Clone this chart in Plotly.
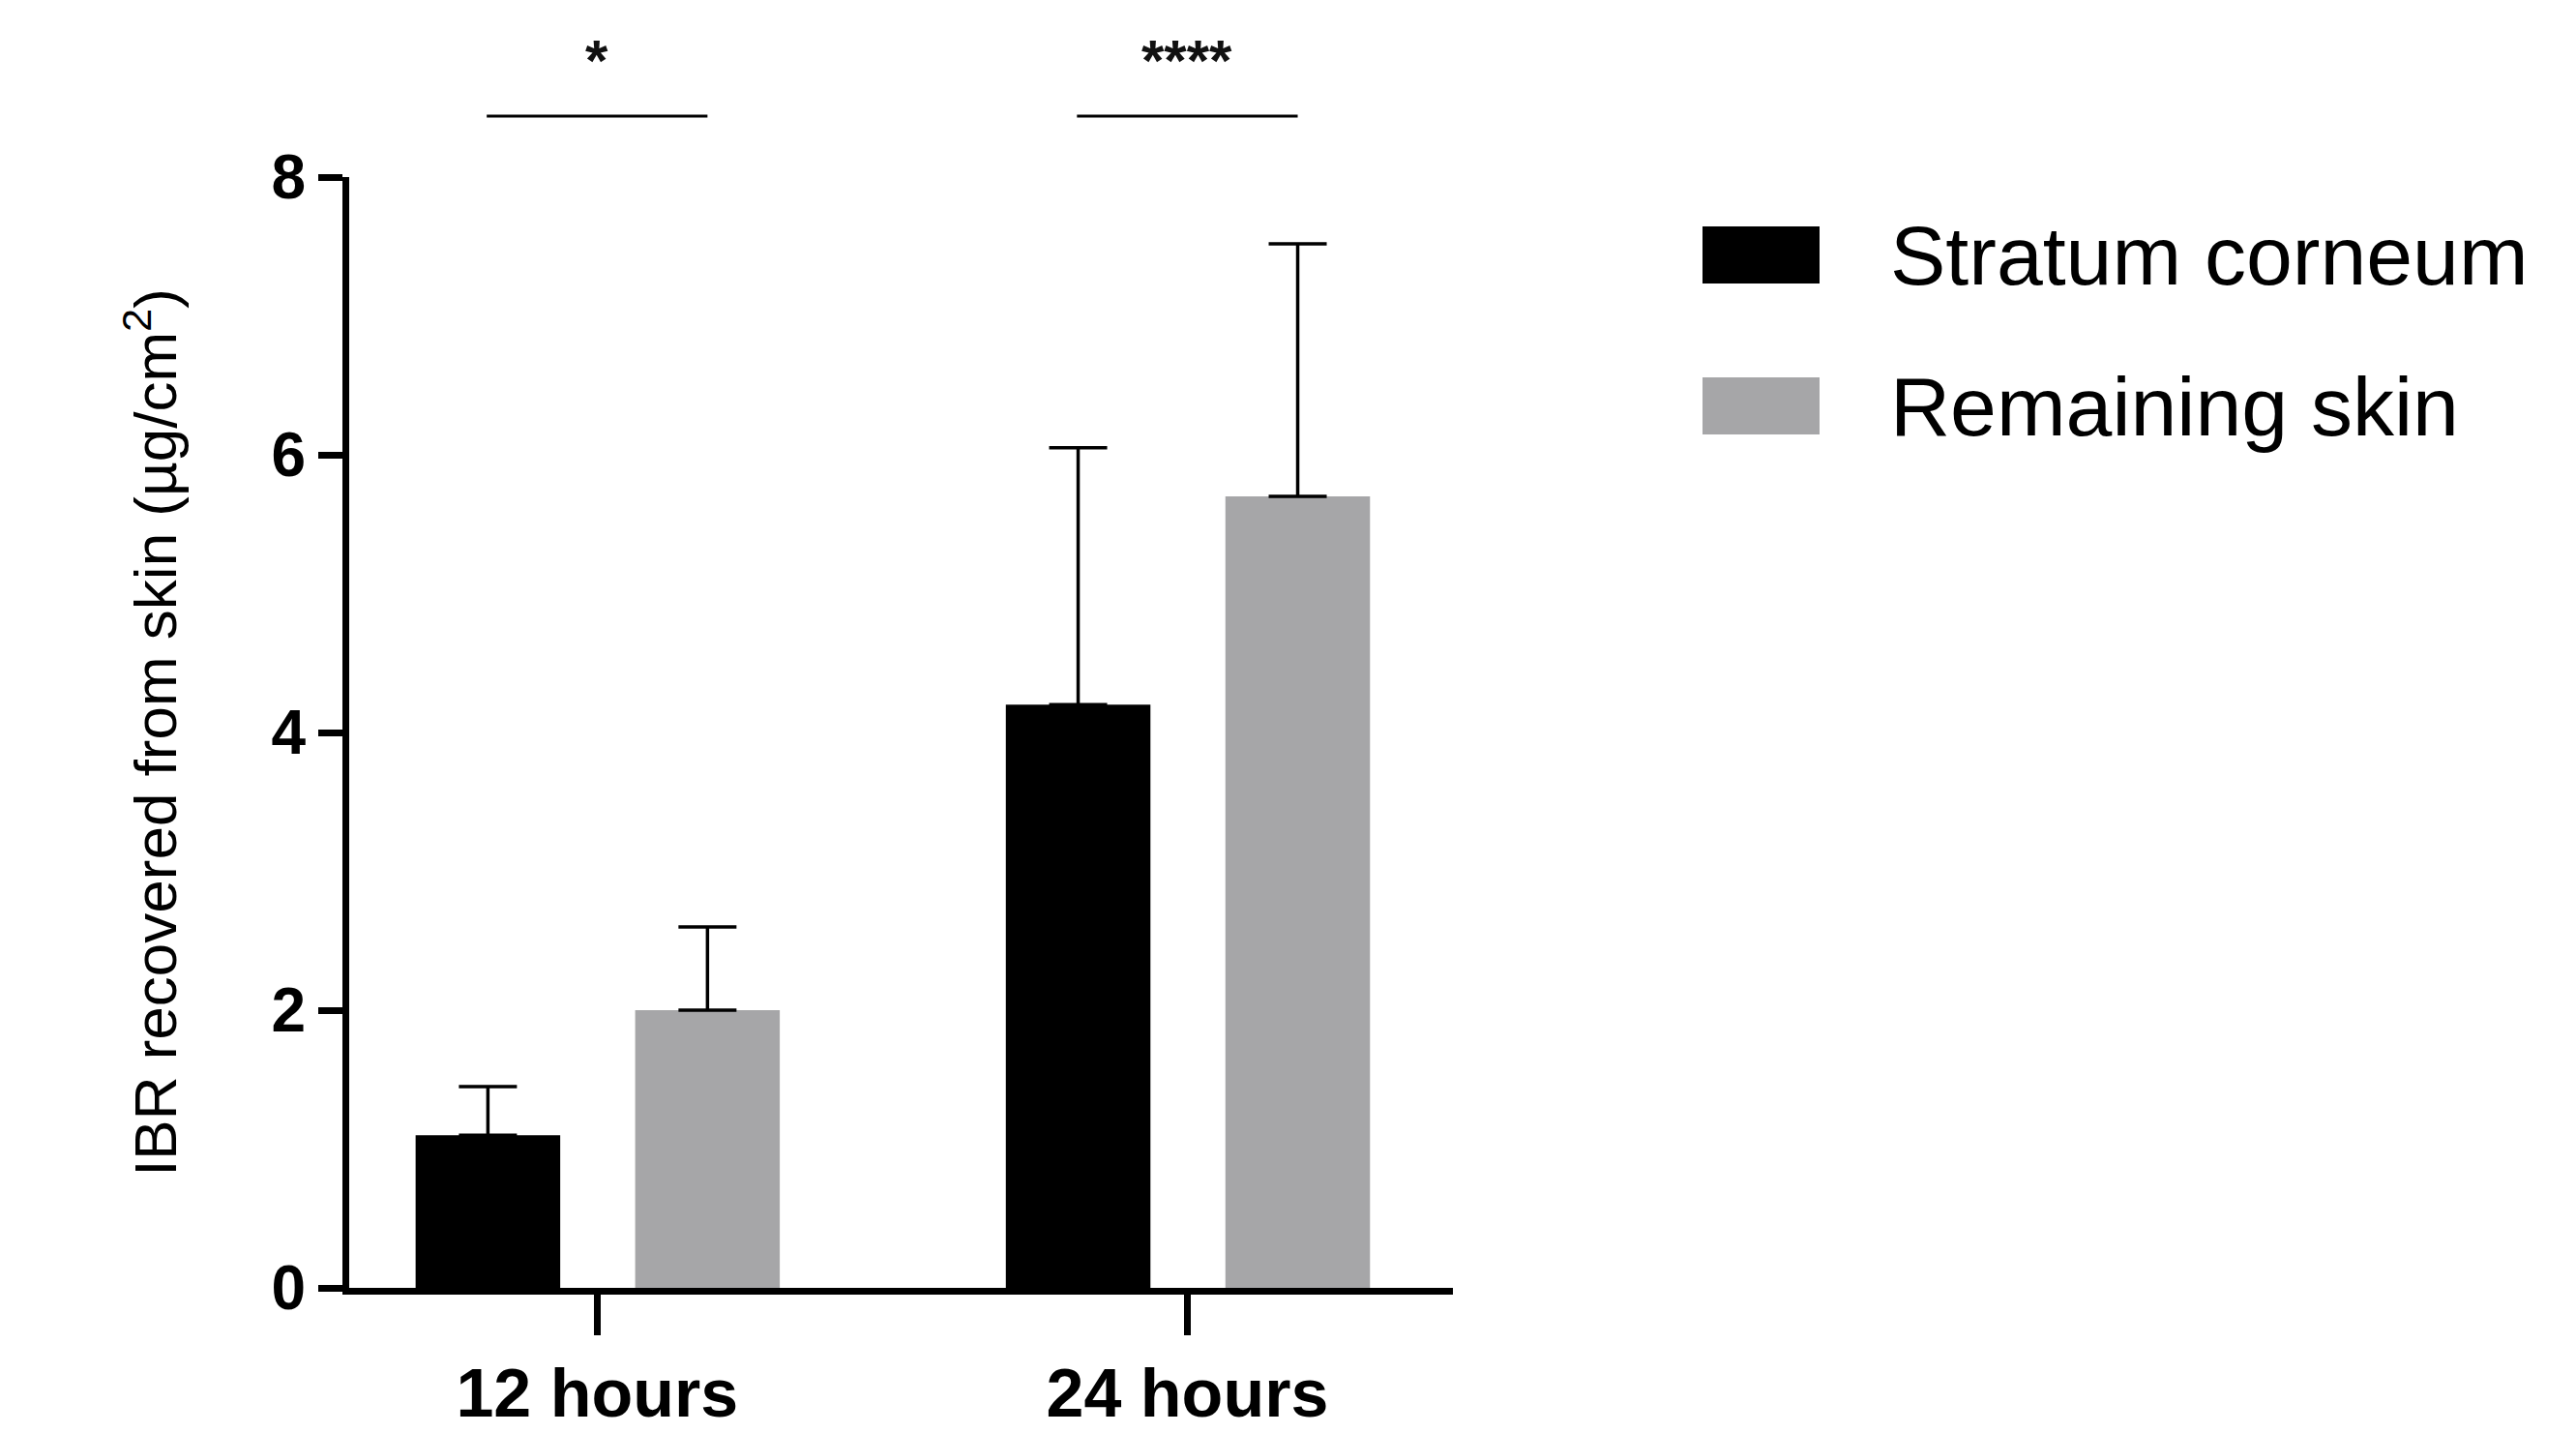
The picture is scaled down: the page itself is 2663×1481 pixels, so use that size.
import plotly.graph_objects as go

categories = ["12 hours", "24 hours"]
series = ["Stratum corneum", "Remaining skin"]
colors = ["#000000", "#a6a6a8"]
means = [[1.1, 4.2], [2.0, 5.7]]
sds = [[0.35, 1.85], [0.6, 1.82]]
stars = ["*", "****"]
yticks = [0, 2, 4, 6, 8]

W, H = 2663, 1481
L, R, T, B = 353, 1494, 175, 1323
def px(x): return (x - L) / (R - L)
def py(y): return (B - y) / (B - T)

xpos = list(range(len(categories)))
bar_w = 0.245
offsets = [-0.185 - bar_w / 2, 0.187 - bar_w / 2]
fig = go.Figure()
for i, name in enumerate(series):
    fig.add_trace(go.Bar(
        x=xpos, y=means[i], name=name, width=bar_w, offset=offsets[i],
        marker=dict(color=colors[i], line=dict(width=0)),
        error_y=dict(type="data", array=sds[i], arrayminus=[0] * len(xpos), symmetric=False,
                     color="black", thickness=3.5, width=30),
        showlegend=False,
    ))

font = "Liberation Sans, Arial, sans-serif"
shapes, annotations = [], []
for j, s in enumerate(stars):
    shapes.append(dict(type="line", xref="x", yref="paper", x0=j - 0.187, x1=j + 0.187,
                       y0=py(112), y1=py(112), line=dict(color="black", width=3)))
    annotations.append(dict(xref="x", yref="paper", x=j, y=py(55), text="<b>%s</b>" % s,
                            yanchor="middle", showarrow=False,
                            font=dict(family=font, size=60, color="#111")))

for k, name in enumerate(series):
    top = [226, 382][k]
    shapes.append(dict(type="rect", xref="paper", yref="paper", x0=px(1752), x1=px(1873),
                       y0=py(top + 59), y1=py(top), fillcolor=colors[k], line=dict(width=0)))
    annotations.append(dict(xref="paper", yref="paper", x=px(1944), y=py(top + 30), text=name,
                            xanchor="left", yanchor="middle", showarrow=False,
                            font=dict(family=font, size=86, color="black")))

fig.update_layout(
    width=W, height=H, template=None, plot_bgcolor="white", paper_bgcolor="white",
    margin=dict(l=L, r=W - R, t=T, b=H - B),
    barmode="overlay",
    shapes=shapes, annotations=annotations,
    xaxis=dict(range=[-0.42, 1.45], tickvals=xpos, ticktext=["<b>%s</b>" % c for c in categories],
               showline=True, linecolor="black", linewidth=7, ticks="outside", ticklen=42, tickwidth=7,
               tickcolor="black", showgrid=False, zeroline=False,
               tickfont=dict(family=font, size=70, color="black")),
    yaxis=dict(range=[0, 8], tickvals=yticks, ticktext=["<b>%d</b>" % v for v in yticks],
               showline=True, linecolor="black", linewidth=7, ticks="outside", ticklen=25, tickwidth=7,
               tickcolor="black", showgrid=False, zeroline=False,
               tickfont=dict(family=font, size=64, color="black"),
               title=dict(text="IBR recovered from skin (µg/cm<sup>2</sup>)", standoff=80,
                          font=dict(family=font, size=62, color="black"))),
)
fig.write_html("out.html")
